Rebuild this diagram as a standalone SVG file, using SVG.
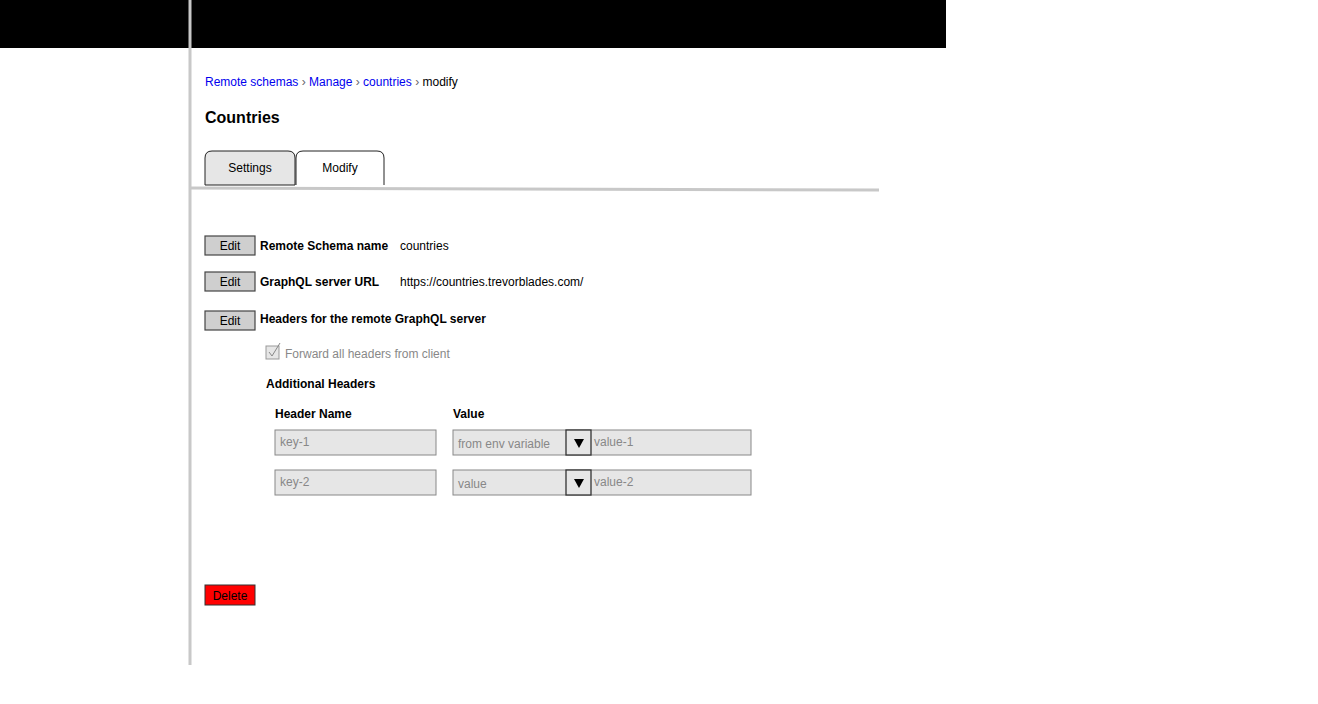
<svg xmlns="http://www.w3.org/2000/svg" width="1318" height="704" viewBox="0 0 1318 704">
<style>
text{font-family:"Liberation Sans",sans-serif;font-size:12px;fill:#000}
.b{font-weight:bold}
.lnk{fill:#0000ee}
.g{fill:#888}
.btn{fill:#cfcfcf;stroke:#444;stroke-width:1.2}
.in{fill:#e6e6e6;stroke:#888;stroke-width:1}
</style>
<rect width="1318" height="704" fill="#fff"/>
<rect x="0" y="0" width="946" height="48" fill="#000"/>
<line x1="190" y1="0" x2="190" y2="665" stroke="#c8c8c8" stroke-width="3"/>
<g id="breadcrumb"><text x="205" y="86"><tspan class="lnk">Remote schemas</tspan><tspan fill="#666"> › </tspan><tspan class="lnk">Manage</tspan><tspan fill="#666"> › </tspan><tspan class="lnk">countries</tspan><tspan fill="#666"> › </tspan>modify</text></g>
<g id="title"><text x="205" y="123" class="b" style="font-size:16px">Countries</text></g>
<g id="tabs">
<path d="M205,185 V158 Q205,151 212,151 H288 Q295,151 295,158 V185 Z" fill="#e6e6e6" stroke="#222"/>
<text x="250" y="172" text-anchor="middle">Settings</text>
<path d="M296,185 V158 Q296,151 303,151 H377 Q384,151 384,158 V185" fill="#fff" stroke="#222"/>
<text x="340" y="172" text-anchor="middle">Modify</text>
</g>
<line x1="190" y1="188" x2="879" y2="190" stroke="#c8c8c8" stroke-width="3"/>
<g id="row1"><rect class="btn" x="205" y="236" width="50" height="19"/><text x="230" y="250" text-anchor="middle">Edit</text><text x="260" y="250" class="b">Remote Schema name</text><text x="400" y="250">countries</text></g>
<g id="row2"><rect class="btn" x="205" y="272" width="50" height="19"/><text x="230" y="286" text-anchor="middle">Edit</text><text x="260" y="286" class="b">GraphQL server URL</text><text x="400" y="286">https://countries.trevorblades.com/</text></g>
<g id="row3"><rect class="btn" x="205" y="311" width="50" height="19"/><text x="230" y="325" text-anchor="middle">Edit</text><text x="260" y="323" class="b">Headers for the remote GraphQL server</text></g>
<g id="forward"><rect x="266" y="346" width="13" height="13" fill="#e6e6e6" stroke="#999"/><path d="M269,352 L272,356 L280,343" fill="none" stroke="#888"/><text x="285" y="358" class="g">Forward all headers from client</text></g>
<g id="additional"><text x="266" y="388" class="b">Additional Headers</text>
<text x="275" y="418" class="b">Header Name</text><text x="453" y="418" class="b">Value</text></g>
<g id="hrow1"><rect class="in" x="275" y="430" width="161" height="25"/><text x="280" y="446" class="g">key-1</text>
<rect class="in" x="453" y="430" width="298" height="25"/><text x="458" y="448" class="g">from env variable</text>
<rect x="566" y="430" width="25" height="25" fill="#e6e6e6" stroke="#333" stroke-width="1.3"/><path d="M574,439 H584 L579,448 Z" fill="#000"/><text x="594" y="446" class="g">value-1</text></g>
<g id="hrow2"><rect class="in" x="275" y="470" width="161" height="25"/><text x="280" y="486" class="g">key-2</text>
<rect class="in" x="453" y="470" width="298" height="25"/><text x="458" y="488" class="g">value</text>
<rect x="566" y="470" width="25" height="25" fill="#e6e6e6" stroke="#333" stroke-width="1.3"/><path d="M574,479 H584 L579,488 Z" fill="#000"/><text x="594" y="486" class="g">value-2</text></g>
<g id="delete"><rect x="205" y="585" width="50" height="20" fill="#ff0000" stroke="#333"/><text x="230" y="600" text-anchor="middle">Delete</text></g>
</svg>
